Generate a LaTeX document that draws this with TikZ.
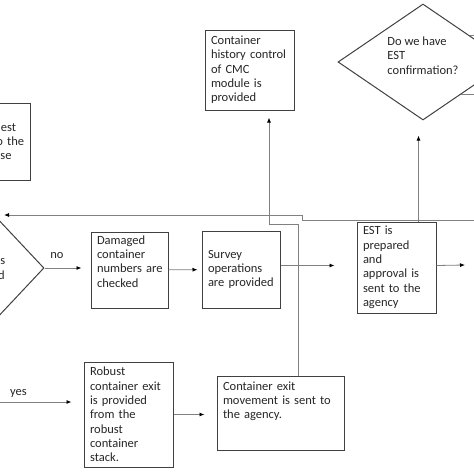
\documentclass[tikz,border=0pt]{standalone}
\usepackage{fontspec}
\setmainfont{Carlito}
\usetikzlibrary{shapes.geometric}
\usetikzlibrary{calc}
\usetikzlibrary{arrows.meta}
\usetikzlibrary{positioning}

\newcommand{\flowfont}{\fontsize{12.5}{14.3}\selectfont}
\newcommand{\padbelow}[1]{\rule[-#1]{0pt}{0pt}}

\begin{document}
\begin{tikzpicture}[x=1pt, y=-1pt,
        box/.style={draw=black!75, line width=1pt, text width=#1, align=left,
            inner xsep=6pt, inner ysep=2pt, text=black!85, font=\flowfont},
        decision/.style={draw=black!75, line width=1pt, diamond, aspect=1.5,
            inner sep=0pt, align=left, text=black!85, font=\flowfont},
        conn/.style={draw=black!50, line width=0.8pt},
        arr/.style={conn, -{Latex[length=5pt, width=4pt, color=black]}},
        lbl/.style={text=black!85, font=\flowfont, inner sep=2pt}]
            \useasboundingbox (0,0) rectangle (474,474);
            \clip (0,0) rectangle (474,474);

            % Process boxes
            \node[box=49pt, minimum height=77pt] (req) at (-0.5,141.5) {Request\\up~to~the\\release};
            \node[box=77pt, minimum height=80pt] (hist) at (249.5,70) {Container\\history~control\\of~CMC\\module~is\\provided};
            \node[box=65pt, minimum height=76pt] (damaged) at (129.5,270) {Damaged\\container\\numbers~are\\checked\padbelow{17pt}};
            \node[box=66pt, minimum height=77pt] (survey) at (241,269.5) {Survey\\operations\\are~provided};
            \node[box=67pt, minimum height=91pt] (est) at (396.5,267.5) {EST~is\\prepared\\and\\approval~is\\sent~to~the\\agency};
            \node[box=77pt, minimum height=105pt] (robust) at (128.5,414.5) {Robust\\container~exit\\is~provided\\from~the\\robust\\container\\stack.};
            \node[box=115pt, minimum height=74pt] (exit) at (280.5,413) {Container~exit\\movement~is~sent~to\\the~agency.\padbelow{26pt}};

            % Decisions
            \node[decision, minimum width=170pt, minimum height=116pt] (conf) at (423,62) {Do~we~have\\EST\\confirmation?\padbelow{13pt}};
            \node[decision, minimum width=124pt, minimum height=132pt, align=center] (dmg) at (-18,268) {Damages\\detected};

            % Free ends
            \coordinate (back) at (4,215);
            \coordinate (out) at (465,265);
            \coordinate (jog) at (302,215);

            % Arrows between steps
            \draw[arr, shorten >=9pt] (dmg.east) -- (dmg.east -| damaged.west) node[lbl, pos=.27, above=7pt] {no};
            \draw[arr, shorten >=4pt] (damaged) -- (survey);
            \draw[arr, shorten >=22pt] ([yshift=4pt]survey.east) -- ([yshift=4pt]survey.east -| est.west);
            \draw[arr] ([yshift=2pt]est.east) -- (out);
            \draw[arr, shorten >=15pt] ([xshift=-18pt]est.north east) -- ([xshift=-18pt]est.north east |- conf.south);
            \draw[arr, shorten >=12pt] (dmg.south) |- ([yshift=12.5pt]robust.west) node[lbl, pos=.68, above=2pt] {yes};
            \draw[arr, shorten >=12pt] (robust.east) -- (robust.east -| exit.west);
            \draw[arr, shorten >=7pt] ([xshift=17.5pt]exit.north) -- ++(0,-151) -| ([xshift=19.5pt]hist.south);

            % Return line and stub on the right
            \draw[arr] ($(conf.east)!.55!(conf.south)$) -- ++(40,0) |- ([yshift=-5pt]jog) -- (jog) -- (back);
            \draw[conn] ($(conf.north)!.55!(conf.east)$) -- ++(20,0);
\end{tikzpicture}
\end{document}
